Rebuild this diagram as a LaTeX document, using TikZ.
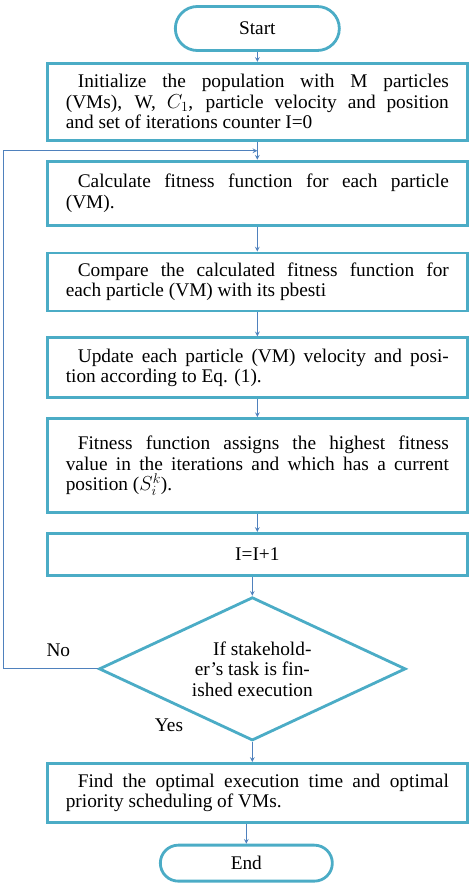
\documentclass[tikz,border=0pt]{standalone}
\usepackage{fontspec}
\setmainfont{Liberation Serif}
\usepackage{amsmath}
\usepackage{xcolor}
\usepackage{tikz}
\usetikzlibrary{shapes.geometric, arrows, positioning, calc}
\definecolor{framec}{RGB}{75,172,198}
\definecolor{linkc}{RGB}{79,129,189}
\tikzstyle{term} = [rectangle, rounded corners=0.66cm, draw=framec, line width=2.4pt, minimum width=4.92cm, minimum height=1.32cm, text centered]
\tikzstyle{process} = [rectangle, draw=framec, line width=2.4pt, text width=11.49cm, inner xsep=0.555cm, inner ysep=0.1cm, align=justify]
\tikzstyle{decision} = [diamond, draw=framec, line width=2.4pt, aspect=2.1, inner sep=0pt, minimum width=9.2cm, minimum height=4.3cm, align=center]
\tikzstyle{arrow} = [draw=linkc, line width=0.8pt, ->, >=stealth]

\begin{document}
\begin{tikzpicture}[node distance=0.6cm, every node/.style={font=\fontsize{16.5}{17.5}\selectfont}]
		\useasboundingbox (0,0) rectangle (14.22,-26.73);
		\node (start) [term] at (7.72,-0.855) {Start};
		\node (init) [process, minimum height=2.31cm, below=0.3cm of start] {\hspace*{0.36cm}Initialize the population with M particles\linebreak (VMs), W, $C_1$, particle velocity and position\linebreak and set of iterations counter I=0};
		\node (calc) [process, minimum height=1.92cm, below=0.54cm of init] {\hspace*{0.36cm}Calculate fitness function for each particle\linebreak (VM).};
		\node (comp) [process, minimum height=1.74cm, below=0.75cm of calc] {\hspace*{0.36cm}Compare the calculated fitness function for\linebreak each particle (VM) with its pbesti};
		\node (upd) [process, minimum height=1.8cm, below=0.72cm of comp] {\hspace*{0.36cm}Update each particle (VM) velocity and posi-\linebreak tion according to Eq. (1).};
		\node (fit) [process, minimum height=2.82cm, below=0.54cm of upd] {\hspace*{0.36cm}Fitness function assigns the highest fitness\linebreak value in the iterations and which has a current\linebreak position ($\smash{S_i^k}$).};
		\node (inc) [process, align=center, minimum height=1.26cm, below=0.54cm of fit] {I=I+1};
		\node (dec) [decision, below=0.57cm of inc, xshift=-0.15cm] {\hspace*{0.6cm}If stakehold-\\er's task is fin-\\ished execution};
		\node (find) [process, minimum height=1.77cm, below=of dec, xshift=0.15cm] {\hspace*{0.36cm}Find the optimal execution time and optimal\linebreak priority scheduling of VMs.};
		\node (end) [term, rounded corners=0.54cm, minimum width=5.16cm, minimum height=1.08cm, below=of find, xshift=-0.33cm] {End};
		\node (yes) at ($(dec.south)+(-2.5,0.51)$) {Yes};
		\coordinate (loopx) at (0.09,0);
		\coordinate (loopin) at ($(init.south)!0.5!(calc.north)$);
		
		\draw[arrow] (start) -- (init);
		\draw[arrow] (init) -- (calc);
		\draw[arrow] (calc) -- (comp);
		\draw[arrow] (comp) -- (upd);
		\draw[arrow] (upd) -- (fit);
		\draw[arrow] (fit) -- (inc);
		\draw[arrow] (inc.south -| dec) -- (dec);
		\draw[arrow] (dec.south) -- (dec.south |- find.north);
		\draw[arrow] (find.south -| end) -- (end);
		
		\draw[arrow] (dec.west) -- node[pos=0.415, yshift=0.57cm] {No} (dec.west -| loopx) |- (loopin);
	\end{tikzpicture}
\end{document}
